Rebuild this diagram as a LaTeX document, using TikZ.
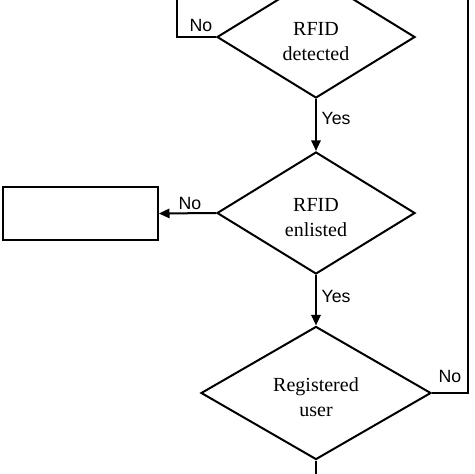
\documentclass[tikz,border=0pt]{standalone}
\usepackage{fontspec}
\setmainfont{Liberation Serif}
\newfontfamily\labelfont{Liberation Sans}
\usetikzlibrary{shapes.geometric,arrows.meta}
\newcommand{\topgap}{\rule{0pt}{17pt}}
\tikzset{every picture/.style={line width=1.5pt}}
\tikzset{
  decision/.style={draw, diamond, inner sep=0pt, aspect=1, minimum height=91.5pt, align=center, font=\fontsize{15}{18.5}\selectfont},
  process/.style={draw, rectangle, minimum width=116pt, minimum height=40pt},
  answer/.style={inner sep=0.75pt, font=\labelfont\fontsize{13.3}{15}\selectfont},
  flow/.style={-{Triangle[length=8pt,width=7pt]}}
}

\begin{document}
\begin{tikzpicture}[x=0.75pt,y=0.75pt,yscale=-1,xscale=1]
\useasboundingbox (0,0) rectangle (474,474);
\clip (0,0) rectangle (474,474);

% Decisions
\node [decision, minimum width=148.5pt] (det) at (316,37) {\topgap RFID\\detected};
\node [decision, minimum width=148.5pt] (enl) at (316,213) {\topgap RFID\\enlisted};
\node [decision, minimum width=172.5pt] (reg) at (316,393) {\topgap Registered\\user};
% Process box
\node [process] (blank) at (80.5,213.5) {};

% loop ends
\coordinate (loopL) at (177,-10);
\coordinate (loopR) at (468,-10);
\coordinate (down) at (316,490);

% Connectors
\draw [flow] (det.south) -- (enl.north);
\draw [flow] (enl.south) -- (reg.north);
\draw [flow] (enl.west) -- (blank.east);
\draw (det.west) -| (loopL);
\draw (reg.east) -| (loopR);
\draw (reg.south) -- (down);

% Text Node
\node [answer] at (201,25) {No};
\node [answer] at (336,118) {Yes};
\node [answer] at (190,203) {No};
\node [answer] at (336,296) {Yes};
\node [answer] at (450,376) {No};
\end{tikzpicture}
\end{document}
